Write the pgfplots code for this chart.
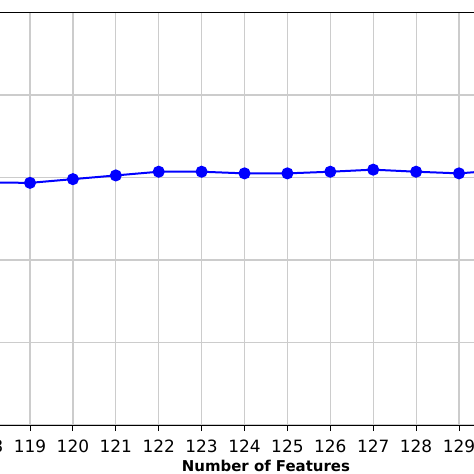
\documentclass[border=0pt]{standalone}
\usepackage{fontspec}
\setmainfont{DejaVu Sans}
\usepackage{pgfplots}
\pgfplotsset{compat=1.18}

\begin{document}
\begin{tikzpicture}
\begin{scope}
\clip (227.4bp,-49bp) rectangle (701.4bp,425bp);
\begin{axis}[
    at={(0,0)}, anchor=south west,
    scale only axis,
    width=986.7bp,
    height=412.5bp,
    xmin=113, xmax=136,
    ymin=0, ymax=1,
    xtick={118,...,130},
    ytick={0,0.2,...,1},
    yticklabels={},
    xtick pos=bottom,
    ytick pos=left,
    tick align=outside,
    major tick length=6bp,
    every tick/.style={black, line width=0.9bp},
    axis line style={black, line width=1bp},
    grid=major,
    major grid style={gray!40, line width=1.2bp},
    /pgf/number format/assume math mode=true,
    xticklabel style={font=\fontsize{17}{17}\selectfont, anchor=base, yshift=-21bp},
    xlabel={\textbf{Number of Features}},
    xlabel style={font=\fontsize{15}{15}\selectfont, at={(axis description cs:0.5,0)}, anchor=center, yshift=-41bp},
]
\addplot[blue, line width=2bp, mark=*, mark size=5bp, mark options={fill=blue, draw=blue}] coordinates {
    (117, 0.589)
    (118, 0.588)
    (119, 0.587)
    (120, 0.596)
    (121, 0.605)
    (122, 0.614)
    (123, 0.614)
    (124, 0.610)
    (125, 0.610)
    (126, 0.614)
    (127, 0.619)
    (128, 0.614)
    (129, 0.610)
    (130, 0.618)
    (131, 0.615)
};
\end{axis}
\end{scope}
\pgfresetboundingbox
\useasboundingbox (227.4bp,-49bp) rectangle (701.4bp,425bp);
\end{tikzpicture}
\end{document}
